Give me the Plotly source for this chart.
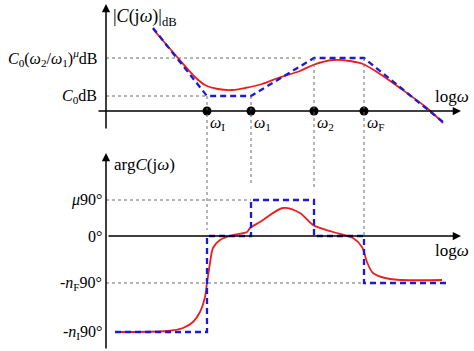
import plotly.graph_objects as go

# ---- data (log-omega units, magnitude in dB-like units, phase in degrees) ----
corner_names = ["<i>ω</i><sub>I</sub>", "<i>ω</i><sub>1</sub>", "<i>ω</i><sub>2</sub>", "<i>ω</i><sub>F</sub>"]
corner_x = [2.02, 2.9, 4.16, 5.16]

C0_dB = 15
Chigh_dB = 53

mag_asym_x = [0.94, 2.02, 2.9, 4.16, 5.16, 6.74]
mag_asym_y = [83, 15, 15, 53, 53, -11]

mag_real_x = [0.94, 1.44, 1.78, 1.98, 2.24, 2.52, 2.78, 3.12, 3.44, 3.88, 4.14, 4.54, 4.88, 5.14, 5.42, 5.88, 6.42, 6.74]
mag_real_y = [82, 53, 34, 26, 22, 21, 23, 27, 33, 40, 46, 51, 50, 47, 39, 23, 3, -12]

mu90 = 36
nF90 = -47
nI90 = -96

ph_asym_x = [0.18, 2.02, 2.02, 2.9, 2.9, 4.16, 4.16, 5.16, 5.16, 6.84]
ph_asym_y = [nI90, nI90, 0, 0, mu90, mu90, 0, 0, nF90, nF90]

ph_real_x = [0.18, 1.22, 1.54, 1.74, 1.88, 1.98, 2.02, 2.08, 2.14, 2.28, 2.54, 2.82, 2.88, 3.08, 3.54, 3.88, 4.14, 4.54, 4.94, 5.12, 5.22, 5.34, 5.68, 6.72]
ph_real_y = [-96, -95, -92, -86, -76, -61, -47, -27, -12, -4, 1, 4, 8, 14, 28, 23, 11, 4, -2, -11, -26, -37, -43, -44]

mag_ticks = [Chigh_dB, C0_dB]
mag_ticktext = ["<i>C</i><sub>0</sub>(<i>ω</i><sub>2</sub>/<i>ω</i><sub>1</sub>)<sup><i>μ</i></sup>dB",
                "<i>C</i><sub>0</sub>dB"]
ph_ticks = [mu90, 0, nF90, nI90]
ph_ticktext = ["<i>μ</i>90°", "0°", "-<i>n</i><sub>F</sub>90°", "-<i>n</i><sub>I</sub>90°"]

# ---- layout ranges ----
XR = [-2.12, 7.36]
YR_MAG = [-240, 111]
YR_PH = [-115, 236]


def mag_to_ph(v):
    f = (v - YR_MAG[0]) / (YR_MAG[1] - YR_MAG[0])
    return YR_PH[0] + f * (YR_PH[1] - YR_PH[0])


BLUE = "#1a1ad8"
RED = "#ee1c1c"
GREY = "#6a6a6a"
FONT = "'Liberation Serif', 'DejaVu Serif', 'Times New Roman', serif"

fig = go.Figure()

# dotted reference lines (horizontal)
def dotted(x, y, yaxis):
    fig.add_trace(go.Scatter(x=x, y=y, mode="lines", yaxis=yaxis,
                             line=dict(color=GREY, width=1, dash="dot"),
                             hoverinfo="skip", showlegend=False))

dotted([0, 3.94], [Chigh_dB, Chigh_dB], "y")
dotted([0, corner_x[0]], [C0_dB, C0_dB], "y")
dotted([0, corner_x[1]], [mu90, mu90], "y2")
dotted([0, corner_x[3]], [nF90, nF90], "y2")

# vertical dotted lines linking the two plots (in phase-axis units)
vert_top = [C0_dB, C0_dB, Chigh_dB, Chigh_dB]
vert_bottom = [6, 51, 49, 0]
for cx, vt, vb in zip(corner_x, vert_top, vert_bottom):
    dotted([cx, cx], [mag_to_ph(vt), vb], "y2")

# magnitude curves
fig.add_trace(go.Scatter(x=mag_real_x, y=mag_real_y, mode="lines", yaxis="y",
                         line=dict(color=RED, width=1.8, shape="spline", smoothing=0.8),
                         showlegend=False))
fig.add_trace(go.Scatter(x=mag_asym_x, y=mag_asym_y, mode="lines", yaxis="y",
                         line=dict(color=BLUE, width=2.3, dash="6px,4px"),
                         showlegend=False))

# phase curves
fig.add_trace(go.Scatter(x=ph_real_x, y=ph_real_y, mode="lines", yaxis="y2",
                         line=dict(color=RED, width=1.8, shape="spline", smoothing=0.8),
                         showlegend=False))
fig.add_trace(go.Scatter(x=ph_asym_x, y=ph_asym_y, mode="lines", yaxis="y2",
                         line=dict(color=BLUE, width=2.3, dash="6px,4px"),
                         showlegend=False))

# corner dots
fig.add_trace(go.Scatter(x=corner_x, y=[0] * len(corner_x), mode="markers", yaxis="y",
                         marker=dict(color="black", size=9), showlegend=False))

ann = []

def arrow(x0, y0, x1, y1, yref):
    ann.append(dict(x=x1, y=y1, ax=x0, ay=y0, xref="x", yref=yref, axref="x", ayref=yref,
                    text="", showarrow=True, arrowhead=2, arrowsize=1.1, arrowwidth=1.5,
                    arrowcolor="black", standoff=0, startstandoff=0))

# axes
arrow(0, -19, 0, 107, "y")
arrow(-0.18, 0, 7.1, 0, "y")
arrow(0, -114, 0, 83, "y2")
arrow(0.02, 0, 7.1, 0, "y2")

fsz = 16
# tick labels
for v, t in zip(mag_ticks, mag_ticktext):
    ann.append(dict(x=0, y=v, xref="x", yref="y", text=t, showarrow=False,
                    xanchor="right", yanchor="middle", xshift=-7,
                    font=dict(family=FONT, size=fsz, color="black")))
for v, t in zip(ph_ticks, ph_ticktext):
    ann.append(dict(x=0, y=v, xref="x", yref="y2", text=t, showarrow=False,
                    xanchor="right", yanchor="middle", xshift=-2,
                    font=dict(family=FONT, size=fsz, color="black")))

# corner labels
for cx, t in zip(corner_x, corner_names):
    ann.append(dict(x=cx, y=0, xref="x", yref="y", text=t, showarrow=False,
                    xanchor="left", yanchor="top", xshift=1, yshift=-1,
                    font=dict(family=FONT, size=fsz, color="black")))

# axis titles
ann.append(dict(x=0, y=111 - 17, xref="x", yref="y",
                text="|<i>C</i>(j<i>ω</i>)|<sub>dB</sub>", showarrow=False,
                xanchor="left", yanchor="middle", xshift=5,
                font=dict(family=FONT, size=18, color="black")))
ann.append(dict(x=0, y=72, xref="x", yref="y2",
                text="arg<i>C</i>(j<i>ω</i>)", showarrow=False,
                xanchor="left", yanchor="middle", xshift=6,
                font=dict(family=FONT, size=17, color="black")))
ann.append(dict(x=7.3, y=0, xref="x", yref="y", text="log<i>ω</i>", showarrow=False,
                xanchor="right", yanchor="bottom", yshift=3,
                font=dict(family=FONT, size=17, color="black")))
ann.append(dict(x=7.3, y=0, xref="x", yref="y2", text="log<i>ω</i>", showarrow=False,
                xanchor="right", yanchor="top", yshift=-3,
                font=dict(family=FONT, size=17, color="black")))

fig.update_layout(
    width=474, height=351,
    margin=dict(l=0, r=0, t=0, b=0),
    paper_bgcolor="white", plot_bgcolor="white",
    font=dict(family=FONT),
    xaxis=dict(range=XR, visible=False, fixedrange=True),
    yaxis=dict(range=YR_MAG, visible=False, fixedrange=True),
    yaxis2=dict(range=YR_PH, visible=False, overlaying="y", fixedrange=True),
    annotations=ann,
    showlegend=False,
)

fig.write_html("out.html", config={"displayModeBar": False})
